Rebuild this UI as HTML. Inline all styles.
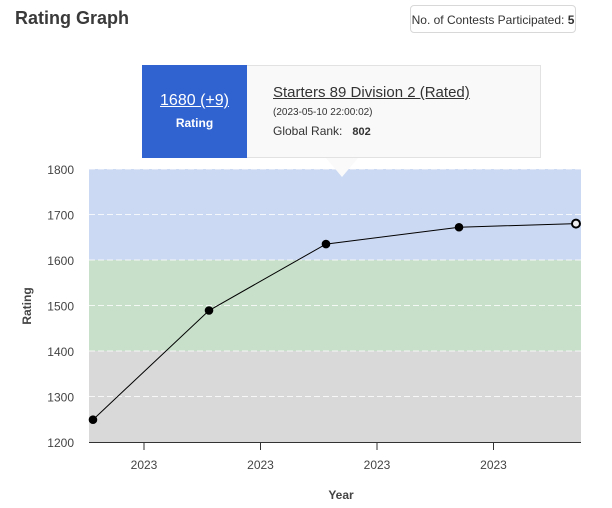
<!DOCTYPE html>
<html><head><meta charset="utf-8"><style>
body{margin:0;width:612px;height:508px;background:#fff;font-family:"Liberation Sans",Arial,sans-serif;position:relative;overflow:hidden}
.title{position:absolute;left:15px;top:8px;font-size:18px;font-weight:bold;color:#3a3a3a}
.btn{position:absolute;left:410px;top:5px;width:166px;height:28px;border:1px solid #d8d8d8;border-radius:4px;font-size:12px;color:#333;line-height:28px;text-align:center;box-sizing:border-box}
.tip{position:absolute;left:142px;top:65px;width:399px;height:93px;background:#f9f9f9;border:1px solid #e2e2e2;box-sizing:border-box}
.tipl{position:absolute;left:142px;top:65px;width:105px;height:93px;background:#3063cf;color:#fff;text-align:center}
</style></head><body>
<div class="title">Rating Graph</div>
<div class="btn">No. of Contests Participated: <b>5</b></div>
<svg width="612" height="508" style="position:absolute;left:0;top:0">
<g id="bands"></g><g id="grid"></g><g id="axes"></g><g id="series"></g>
<polygon points="326,158 358,158 342,177" fill="#fafafa"/>
<text x="341" y="499" font-size="12" font-weight="bold" fill="#444" text-anchor="middle">Year</text>
<text transform="translate(31,306) rotate(-90)" font-size="12" font-weight="bold" fill="#444" text-anchor="middle">Rating</text>
</svg>
<div class="tip"></div>
<div class="tipl">
<div style="margin-top:27px;font-size:16px;text-decoration:underline">1680 (+9)</div>
<div style="margin-top:6px;font-size:12px;font-weight:bold">Rating</div></div>
<div style="position:absolute;left:273px;top:84px;font-size:15px;color:#333;text-decoration:underline">Starters 89 Division 2 (Rated)</div>
<div style="position:absolute;left:273px;top:107px;font-size:10px;color:#333">(2023-05-10 22:00:02)</div>
<div style="position:absolute;left:273px;top:124px;font-size:12px;color:#333">Global Rank: &nbsp;&nbsp;<b style="font-size:11px">802</b></div>
<script>
const xValues=[0.562,1.558,2.562,3.704,4.708];
const ratings=[1249,1489,1635,1672,1680];
const xTicks=[1,2,3,4];
const xTickLabels=["2023","2023","2023","2023"];
const yTicks=[1200,1300,1400,1500,1600,1700,1800];
const bandLimits=[[1200,1400,"#d9d9d9"],[1400,1600,"#c8e0ca"],[1600,1800,"#ccd9f2"]];
const NS="http://www.w3.org/2000/svg";
const L=89,R=581,T=169,B=442;
const xs=v=>144+(v-1)*116.5;
const ys=v=>B-(v-1200)/600*(B-T);
function mk(t,a,p){const e=document.createElementNS(NS,t);for(const k in a)e.setAttribute(k,a[k]);document.getElementById(p).appendChild(e);return e;}
bandLimits.forEach(b=>{const e=mk("rect",{x:L,y:ys(b[1]),width:R-L,height:ys(b[0])-ys(b[1]),fill:b[2]},"bands");

});
yTicks.forEach(v=>{if(v>1200){const g=mk("line",{x1:L,x2:R,y1:ys(v),y2:ys(v),stroke:"#fff","stroke-dasharray":"6,3","stroke-width":1,opacity:0.8},"grid");

}
const t=mk("text",{x:74,y:ys(v)+5,"font-size":12,fill:"#444","text-anchor":"end"},"axes");t.textContent=v;

});
const ax=mk("line",{x1:L,x2:R,y1:B+0.5,y2:B+0.5,stroke:"#333"},"axes");


xTicks.forEach((v,i)=>{const l=mk("line",{x1:xs(v),x2:xs(v),y1:B,y2:B+8,stroke:"#333"},"axes");


const t=mk("text",{x:xs(v),y:B+27,"font-size":12,fill:"#444","text-anchor":"middle"},"axes");t.textContent=xTickLabels[i];

});
const ln=mk("polyline",{points:xValues.map((v,i)=>xs(v)+","+ys(ratings[i])).join(" "),fill:"none",stroke:"#000","stroke-width":1},"series");


xValues.forEach((v,i)=>{const last=i===xValues.length-1;
const c=mk("circle",{cx:xs(v),cy:ys(ratings[i]),r:last?4:3.8,fill:last?"#eee":"#000",stroke:"#000","stroke-width":last?2:1},"series");

});
</script>
</body></html>
